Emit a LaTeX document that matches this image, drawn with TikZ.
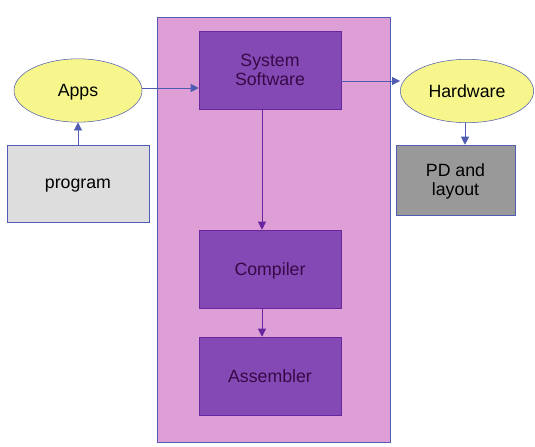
\documentclass[tikz,border=0pt]{standalone}
\usepackage{fontspec}
\setmainfont{Liberation Sans}
\usetikzlibrary{shapes.geometric,arrows.meta}
\definecolor{pinkbg}{RGB}{222,158,214}
\definecolor{blueline}{RGB}{80,92,178}
\definecolor{purplebox}{RGB}{132,73,181}
\definecolor{purpleline}{RGB}{104,38,160}
\definecolor{purpletext}{RGB}{55,10,70}
\definecolor{yellowfill}{RGB}{247,246,140}
\definecolor{lightgray}{RGB}{221,221,221}
\definecolor{midgray}{RGB}{153,153,153}
\begin{document}
\begin{tikzpicture}[x=0.75pt,y=-0.75pt,
  every node/.style={font=\fontsize{13.3pt}{14.3pt}\selectfont, align=center, inner sep=0pt, text depth=0pt},
  innerbox/.style={rectangle, draw=purpleline, fill=purplebox, text=purpletext, minimum width=106.5pt, minimum height=58.5pt},
  oval/.style={ellipse, draw=blueline, fill=yellowfill, text=black, minimum width=96pt, minimum height=47.5pt},
  bluearrow/.style={draw=blueline, line width=0.65pt, -{Triangle[width=6pt,length=6pt]}},
  purplearrow/.style={draw=purpleline, line width=0.65pt, -{Triangle[width=6pt,length=6pt]}}
]
\useasboundingbox (0,0) rectangle (535,446);
\node[rectangle, draw=blueline, fill=pinkbg, line width=0.65pt, minimum width=174.75pt, minimum height=318.75pt] (outer) at (273.5,229.5) {};
\node[innerbox] (sys) at (270,70) {System\\Software};
\node[innerbox] (comp) at (270,269) {Compiler};
\node[innerbox] (asm) at (270,376) {Assembler};
\node[oval] (apps) at (78,90.5) {Apps};
\node[oval, minimum width=100pt] (hw) at (467,91) {Hardware};
\node[rectangle, draw=blueline, fill=lightgray, minimum width=106.5pt, minimum height=57.75pt] (prog) at (78,183.5) {program};
\node[rectangle, draw=blueline, fill=midgray, minimum width=89.25pt, minimum height=52.5pt] (pd) at (455.5,180) {PD and\\layout};
\draw[bluearrow] (prog.north) -- (apps.south);
\draw[bluearrow] (apps.east |- 0,88) -- (sys.west |- 0,88);
\draw[bluearrow] (sys.east |- 0,81) -- (hw.west |- 0,81);
\draw[bluearrow] (hw.south -| 465,0) -- (pd.north -| 465,0);
\draw[purplearrow] (sys.south -| 262,0) -- (comp.north -| 262,0);
\draw[purplearrow] (comp.south -| 262,0) -- (asm.north -| 262,0);
\end{tikzpicture}
\end{document}
